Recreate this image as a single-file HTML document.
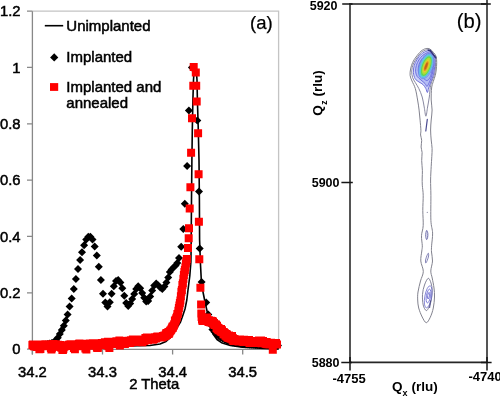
<!DOCTYPE html>
<html><head><meta charset="utf-8"><title>XRD figure</title>
<style>html,body{margin:0;padding:0;background:#fff;width:500px;height:396px;overflow:hidden}
svg{display:block}text{font-family:"Liberation Sans",Arial,sans-serif;fill:#000}</style></head>
<body><svg width="500" height="396" viewBox="0 0 500 396">
<path d="M32.4 11.2H278.6V349.4" fill="none" stroke="#c4c4c4" stroke-width="1.3"/>
<path d="M32.4 11.2V354.5M32.4 349.4H278.6" fill="none" stroke="#888" stroke-width="1.3"/>
<path d="M27 11.1H32.4M27 67.4H32.4M27 123.8H32.4M27 180.1H32.4M27 236.4H32.4M27 292.8H32.4M27 349.1H32.4M32.4 349.4V354.5M102.5 349.4V354.5M172.6 349.4V354.5M242.7 349.4V354.5" fill="none" stroke="#888" stroke-width="1.3"/>
<path d="M32.4 346.5 L120 346.2 L150 345.5 L160 344 L166 341.5 L170 338 L174 332 L177 327.5 L180.5 322 L183 315 L185 309 L186.8 300 L188 290 L189.8 276 L190.9 262 L191.1 250 L191.5 200 L191.9 160 L192.3 130 L192.9 100 L193.5 80 L194.2 69 L195.2 66 L196.2 68 L197 80 L197.4 100 L198.3 130 L199 160 L199.4 200 L199.6 240 L200.4 262.7 L201.3 280 L203 292 L205 302 L207.5 313 L210 324 L213 334 L217 339.5 L221.5 342.7 L230.3 345.4 L242.7 347.1 L260 348.3 L278.6 349" fill="none" stroke="#000" stroke-width="1.6" stroke-linejoin="round"/>
<path d="M33.8 341l4 4l-4 4l-4 -4zM35.8 341l4 4l-4 4l-4 -4zM37.8 341l4 4l-4 4l-4 -4zM39.8 341l4 4l-4 4l-4 -4zM41.8 341l4 4l-4 4l-4 -4zM43.8 340.8l4 4l-4 4l-4 -4zM45.8 340.5l4 4l-4 4l-4 -4zM47.8 340l4 4l-4 4l-4 -4zM49.8 339.5l4 4l-4 4l-4 -4zM51.8 339l4 4l-4 4l-4 -4zM53.8 338l4 4l-4 4l-4 -4zM55.8 336.5l4 4l-4 4l-4 -4zM57.8 333.8l4 4l-4 4l-4 -4zM59.8 330l4 4l-4 4l-4 -4zM61.8 326l4 4l-4 4l-4 -4zM63.8 321.8l4 4l-4 4l-4 -4zM65.8 316.5l4 4l-4 4l-4 -4zM67.6 310.5l4 4l-4 4l-4 -4zM69.6 302.5l4 4l-4 4l-4 -4zM71.7 294.5l4 4l-4 4l-4 -4zM73.8 284.9l4 4l-4 4l-4 -4zM75.9 275l4 4l-4 4l-4 -4zM78 264.9l4 4l-4 4l-4 -4zM80.1 256l4 4l-4 4l-4 -4zM82 248.3l4 4l-4 4l-4 -4zM84.1 241.2l4 4l-4 4l-4 -4zM86.2 235.5l4 4l-4 4l-4 -4zM88.3 232.7l4 4l-4 4l-4 -4zM90.4 232.7l4 4l-4 4l-4 -4zM92.5 235.5l4 4l-4 4l-4 -4zM94.7 242.5l4 4l-4 4l-4 -4zM96.8 251.5l4 4l-4 4l-4 -4zM98.8 262.8l4 4l-4 4l-4 -4zM100.9 276.1l4 4l-4 4l-4 -4zM103 289.7l4 4l-4 4l-4 -4zM105.3 298.5l4 4l-4 4l-4 -4zM107.5 302.5l4 4l-4 4l-4 -4zM109.8 298.3l4 4l-4 4l-4 -4zM111.6 289.7l4 4l-4 4l-4 -4zM113.8 282.2l4 4l-4 4l-4 -4zM116 277.1l4 4l-4 4l-4 -4zM118.2 276.1l4 4l-4 4l-4 -4zM120.4 278.5l4 4l-4 4l-4 -4zM122.3 284.2l4 4l-4 4l-4 -4zM124.3 291.8l4 4l-4 4l-4 -4zM126.2 299l4 4l-4 4l-4 -4zM128.2 302l4 4l-4 4l-4 -4zM130.2 299.5l4 4l-4 4l-4 -4zM132.2 295l4 4l-4 4l-4 -4zM134.2 290l4 4l-4 4l-4 -4zM136.2 285l4 4l-4 4l-4 -4zM138.2 282.2l4 4l-4 4l-4 -4zM140.2 284.2l4 4l-4 4l-4 -4zM142.2 289l4 4l-4 4l-4 -4zM144.2 293.8l4 4l-4 4l-4 -4zM146.2 297.5l4 4l-4 4l-4 -4zM148.2 297l4 4l-4 4l-4 -4zM150.2 292.5l4 4l-4 4l-4 -4zM152.2 286.5l4 4l-4 4l-4 -4zM154.2 281.5l4 4l-4 4l-4 -4zM156.2 279.5l4 4l-4 4l-4 -4zM158.2 281.2l4 4l-4 4l-4 -4zM160.2 283.5l4 4l-4 4l-4 -4zM162.3 285l4 4l-4 4l-4 -4zM164.4 282.5l4 4l-4 4l-4 -4zM166.4 278.5l4 4l-4 4l-4 -4zM168.2 273.5l4 4l-4 4l-4 -4zM169.8 268l4 4l-4 4l-4 -4zM171.6 265.5l4 4l-4 4l-4 -4zM173.6 263.3l4 4l-4 4l-4 -4zM175.6 261.5l4 4l-4 4l-4 -4zM177.3 259l4 4l-4 4l-4 -4zM179 254l4 4l-4 4l-4 -4zM181.2 242.7l4 4l-4 4l-4 -4zM183.3 225l4 4l-4 4l-4 -4zM184.8 199.7l4 4l-4 4l-4 -4zM187.1 162l4 4l-4 4l-4 -4zM188.9 106.6l4 4l-4 4l-4 -4zM191.9 63.5l4 4l-4 4l-4 -4zM197.3 116.5l4 4l-4 4l-4 -4zM199 187.6l4 4l-4 4l-4 -4zM199.7 244.6l4 4l-4 4l-4 -4zM201.6 278l4 4l-4 4l-4 -4zM206.2 298.5l4 4l-4 4l-4 -4zM208.3 310.5l4 4l-4 4l-4 -4zM210.4 320.6l4 4l-4 4l-4 -4zM212.4 325.5l4 4l-4 4l-4 -4zM214.5 328.1l4 4l-4 4l-4 -4zM216.5 330.2l4 4l-4 4l-4 -4zM218.6 332l4 4l-4 4l-4 -4zM220.6 333.3l4 4l-4 4l-4 -4zM222.7 334.4l4 4l-4 4l-4 -4zM224.7 335.4l4 4l-4 4l-4 -4zM226.8 336.4l4 4l-4 4l-4 -4zM228.8 337.1l4 4l-4 4l-4 -4zM230.9 337.8l4 4l-4 4l-4 -4zM232.9 338.4l4 4l-4 4l-4 -4zM235 338.9l4 4l-4 4l-4 -4zM237 339.3l4 4l-4 4l-4 -4zM239.1 339.6l4 4l-4 4l-4 -4zM241.1 339.9l4 4l-4 4l-4 -4zM243.2 340l4 4l-4 4l-4 -4zM245.2 340.2l4 4l-4 4l-4 -4zM247.3 340.3l4 4l-4 4l-4 -4zM249.3 340.5l4 4l-4 4l-4 -4zM251.4 340.5l4 4l-4 4l-4 -4zM253.4 340.6l4 4l-4 4l-4 -4zM255.5 340.7l4 4l-4 4l-4 -4zM257.5 340.8l4 4l-4 4l-4 -4zM259.6 340.8l4 4l-4 4l-4 -4zM261.6 340.9l4 4l-4 4l-4 -4zM263.7 341l4 4l-4 4l-4 -4zM265.7 341l4 4l-4 4l-4 -4zM267.8 341.1l4 4l-4 4l-4 -4zM269.8 341.2l4 4l-4 4l-4 -4zM271.9 341.2l4 4l-4 4l-4 -4zM273.9 341.3l4 4l-4 4l-4 -4zM276 341.4l4 4l-4 4l-4 -4zM278 341.5l4 4l-4 4l-4 -4z" fill="#000"/>
<path d="M28.4 340.9h8v8h-8zM28.9 340.5h8v8h-8zM29.4 341.3h8v8h-8zM29.9 341.9h8v8h-8zM30.4 342.4h8v8h-8zM30.9 341.6h8v8h-8zM31.4 341.1h8v8h-8zM31.9 340.9h8v8h-8zM32.4 342.1h8v8h-8zM32.9 342.9h8v8h-8zM33.4 341.8h8v8h-8zM33.9 340.6h8v8h-8zM34.4 340.8h8v8h-8zM34.9 342.9h8v8h-8zM35.4 345.2h8v8h-8zM35.9 343.7h8v8h-8zM36.4 345h8v8h-8zM36.9 340.7h8v8h-8zM37.4 341.1h8v8h-8zM37.9 341.2h8v8h-8zM38.4 341h8v8h-8zM38.9 342.1h8v8h-8zM39.4 341.6h8v8h-8zM39.9 341.2h8v8h-8zM40.4 342h8v8h-8zM40.9 342.3h8v8h-8zM41.4 340.3h8v8h-8zM41.9 341.4h8v8h-8zM42.4 340.9h8v8h-8zM42.9 341.5h8v8h-8zM43.4 340.6h8v8h-8zM43.9 341.7h8v8h-8zM44.4 341.6h8v8h-8zM44.9 341.4h8v8h-8zM45.4 340.8h8v8h-8zM45.9 341.4h8v8h-8zM46.4 340.8h8v8h-8zM46.9 344.1h8v8h-8zM47.4 345.4h8v8h-8zM47.9 344.3h8v8h-8zM48.4 342.7h8v8h-8zM48.9 342.3h8v8h-8zM49.4 340.1h8v8h-8zM49.9 342h8v8h-8zM50.4 340.9h8v8h-8zM50.9 341.8h8v8h-8zM51.4 341.8h8v8h-8zM51.9 340.2h8v8h-8zM52.4 341.6h8v8h-8zM52.9 341.6h8v8h-8zM53.4 342.5h8v8h-8zM53.9 340.8h8v8h-8zM54.4 342.4h8v8h-8zM54.9 340.9h8v8h-8zM55.4 341.5h8v8h-8zM55.9 341.1h8v8h-8zM56.4 342.9h8v8h-8zM56.9 342.2h8v8h-8zM57.4 343.7h8v8h-8zM57.9 342.2h8v8h-8zM58.4 345.9h8v8h-8zM58.9 345.9h8v8h-8zM59.4 344.7h8v8h-8zM59.9 341.6h8v8h-8zM60.4 342.7h8v8h-8zM60.9 341.3h8v8h-8zM61.4 341.7h8v8h-8zM61.9 341.5h8v8h-8zM62.4 342h8v8h-8zM62.9 341.2h8v8h-8zM63.4 341.4h8v8h-8zM63.9 341.7h8v8h-8zM64.4 341.5h8v8h-8zM64.9 340.8h8v8h-8zM65.4 342.1h8v8h-8zM65.9 340.4h8v8h-8zM66.4 340.4h8v8h-8zM66.9 340.3h8v8h-8zM67.4 342.1h8v8h-8zM67.9 341h8v8h-8zM68.4 340.5h8v8h-8zM68.9 340.4h8v8h-8zM69.4 341.6h8v8h-8zM69.9 343.9h8v8h-8zM70.4 343.7h8v8h-8zM70.9 345.2h8v8h-8zM71.4 340.2h8v8h-8zM71.9 340.9h8v8h-8zM72.4 341.1h8v8h-8zM72.9 340.8h8v8h-8zM73.4 341.1h8v8h-8zM73.9 342.2h8v8h-8zM74.4 340.7h8v8h-8zM74.9 340h8v8h-8zM75.4 339.6h8v8h-8zM75.9 340.8h8v8h-8zM76.4 340.7h8v8h-8zM76.9 341.2h8v8h-8zM77.4 340.5h8v8h-8zM77.9 340.5h8v8h-8zM78.4 340.3h8v8h-8zM78.9 340.4h8v8h-8zM79.4 340.9h8v8h-8zM79.9 340.5h8v8h-8zM80.4 340.8h8v8h-8zM80.9 342.2h8v8h-8zM81.4 344.6h8v8h-8zM81.9 342.9h8v8h-8zM82.4 345.5h8v8h-8zM82.9 340.9h8v8h-8zM83.4 339.8h8v8h-8zM83.9 341.3h8v8h-8zM84.4 340.5h8v8h-8zM84.9 340h8v8h-8zM85.4 339.9h8v8h-8zM85.9 339.6h8v8h-8zM86.4 340.4h8v8h-8zM86.9 341.2h8v8h-8zM87.4 340.1h8v8h-8zM87.9 340.6h8v8h-8zM88.4 341.8h8v8h-8zM88.9 339.3h8v8h-8zM89.4 340.4h8v8h-8zM89.9 339.9h8v8h-8zM90.4 339.3h8v8h-8zM90.9 339.3h8v8h-8zM91.4 340.1h8v8h-8zM91.9 340.4h8v8h-8zM92.4 339.6h8v8h-8zM92.9 343.5h8v8h-8zM93.4 344h8v8h-8zM93.9 343.7h8v8h-8zM94.4 340.6h8v8h-8zM94.9 340.2h8v8h-8zM95.4 340.2h8v8h-8zM95.9 341.3h8v8h-8zM96.4 340.3h8v8h-8zM96.9 339.8h8v8h-8zM97.4 340.3h8v8h-8zM97.9 338.9h8v8h-8zM98.4 339.3h8v8h-8zM98.9 340.2h8v8h-8zM99.4 340h8v8h-8zM99.9 340.7h8v8h-8zM100.4 339.5h8v8h-8zM100.9 338.3h8v8h-8zM101.4 341h8v8h-8zM101.9 340.2h8v8h-8zM102.4 338.5h8v8h-8zM102.9 340.4h8v8h-8zM103.4 339.3h8v8h-8zM103.9 337.8h8v8h-8zM104.4 342.3h8v8h-8zM104.9 342.2h8v8h-8zM105.4 343.9h8v8h-8zM105.9 338.4h8v8h-8zM106.4 338.8h8v8h-8zM106.9 338.8h8v8h-8zM107.4 338.6h8v8h-8zM107.9 338.2h8v8h-8zM108.4 339h8v8h-8zM108.9 339.7h8v8h-8zM109.4 339.3h8v8h-8zM109.9 338h8v8h-8zM110.4 337.8h8v8h-8zM110.9 338.8h8v8h-8zM111.4 338.1h8v8h-8zM111.9 338.1h8v8h-8zM112.4 337.2h8v8h-8zM112.9 340.1h8v8h-8zM113.4 339.2h8v8h-8zM113.9 337.7h8v8h-8zM114.4 339.1h8v8h-8zM114.9 339.5h8v8h-8zM115.4 336.4h8v8h-8zM115.9 341.4h8v8h-8zM116.4 338h8v8h-8zM116.9 338.7h8v8h-8zM117.4 338.1h8v8h-8zM117.9 337.9h8v8h-8zM118.4 338h8v8h-8zM118.9 339.5h8v8h-8zM119.4 339.7h8v8h-8zM119.9 337.5h8v8h-8zM120.4 337.1h8v8h-8zM120.9 340h8v8h-8zM121.4 337h8v8h-8zM121.9 337.3h8v8h-8zM122.4 337.7h8v8h-8zM122.9 338h8v8h-8zM123.4 338.4h8v8h-8zM123.9 337.9h8v8h-8zM124.4 336.8h8v8h-8zM124.9 337.9h8v8h-8zM125.4 337.6h8v8h-8zM125.9 338.9h8v8h-8zM126.4 337.3h8v8h-8zM126.9 336.2h8v8h-8zM127.4 336.4h8v8h-8zM127.9 338.3h8v8h-8zM128.4 336.7h8v8h-8zM128.9 335.4h8v8h-8zM129.4 336.6h8v8h-8zM129.9 337h8v8h-8zM130.4 337.9h8v8h-8zM130.9 336.1h8v8h-8zM131.4 337.4h8v8h-8zM131.9 337.4h8v8h-8zM132.4 336.2h8v8h-8zM132.9 336.5h8v8h-8zM133.4 338.1h8v8h-8zM133.9 338h8v8h-8zM134.4 337.2h8v8h-8zM134.9 336.8h8v8h-8zM135.4 337.4h8v8h-8zM135.9 336.3h8v8h-8zM136.4 336.2h8v8h-8zM136.9 335.6h8v8h-8zM137.4 336.2h8v8h-8zM137.9 336h8v8h-8zM138.4 338.3h8v8h-8zM138.9 335.8h8v8h-8zM139.4 336.9h8v8h-8zM139.9 336.9h8v8h-8zM140.4 335.6h8v8h-8zM140.9 336.6h8v8h-8zM141.4 333.9h8v8h-8zM141.9 335.7h8v8h-8zM142.4 336.2h8v8h-8zM142.9 333.5h8v8h-8zM143.4 334.5h8v8h-8zM143.9 336.2h8v8h-8zM144.4 335h8v8h-8zM144.9 334.3h8v8h-8zM145.4 334.8h8v8h-8zM145.9 334.6h8v8h-8zM146.4 335.6h8v8h-8zM146.9 335.3h8v8h-8zM147.4 334.6h8v8h-8zM147.9 334.2h8v8h-8zM148.4 334.7h8v8h-8zM148.9 335.7h8v8h-8zM149.4 334.9h8v8h-8zM149.9 335h8v8h-8zM150.4 334.3h8v8h-8zM150.9 333.2h8v8h-8zM151.4 333.6h8v8h-8zM151.9 334.5h8v8h-8zM152.4 334h8v8h-8zM152.9 333.1h8v8h-8zM153.4 332.4h8v8h-8zM153.9 333.6h8v8h-8zM154.4 333.1h8v8h-8zM154.9 333h8v8h-8zM155.4 332.9h8v8h-8zM155.9 333.3h8v8h-8zM156.4 333.1h8v8h-8zM156.9 333.5h8v8h-8zM157.4 333.4h8v8h-8zM157.9 333.6h8v8h-8zM158.4 333h8v8h-8zM158.9 332h8v8h-8zM159.4 332.1h8v8h-8zM159.9 332.4h8v8h-8zM160.4 331.5h8v8h-8zM160.9 331.9h8v8h-8zM161.4 332h8v8h-8zM161.9 330.2h8v8h-8zM162.4 329.1h8v8h-8zM162.9 331.1h8v8h-8zM163.4 329.9h8v8h-8zM163.9 330.1h8v8h-8zM164.4 328h8v8h-8zM164.9 329.8h8v8h-8zM165.4 328.5h8v8h-8zM165.9 327.2h8v8h-8zM166.4 326.4h8v8h-8zM166.9 326.2h8v8h-8zM167.4 325.2h8v8h-8zM167.9 324.3h8v8h-8zM168.4 322.8h8v8h-8zM168.9 323.8h8v8h-8zM169.4 322h8v8h-8zM169.9 321.2h8v8h-8zM170.4 320h8v8h-8zM170.9 316.6h8v8h-8zM171.4 317.5h8v8h-8zM171.9 315.4h8v8h-8zM172.4 314h8v8h-8zM172.9 312.7h8v8h-8zM173.4 310.1h8v8h-8zM173.9 309.8h8v8h-8zM174.4 306.8h8v8h-8zM174.9 304.1h8v8h-8zM175.4 301.4h8v8h-8zM175.9 299.1h8v8h-8zM176.4 296.4h8v8h-8zM176.9 292.2h8v8h-8zM177.4 287.8h8v8h-8zM177.9 286.1h8v8h-8zM178.4 280.9h8v8h-8zM178.9 279.2h8v8h-8zM179.4 274.7h8v8h-8zM179.9 271h8v8h-8zM180.4 268.1h8v8h-8zM180.9 266h8v8h-8zM181.4 263.3h8v8h-8zM181.9 259.4h8v8h-8zM182.4 257.3h8v8h-8zM182.9 255.1h8v8h-8zM184 244h8v8h-8zM184.7 234.2h8v8h-8zM185 224.3h8v8h-8zM185.7 204.6h8v8h-8zM186.4 183.3h8v8h-8zM187.1 148.7h8v8h-8zM188 114.3h8v8h-8zM189.3 81.8h8v8h-8zM189.7 63h8v8h-8zM191.8 68.5h8v8h-8zM192.2 81.8h8v8h-8zM192.7 97.5h8v8h-8zM194.1 129.3h8v8h-8zM194.6 170.2h8v8h-8zM194.9 217.8h8v8h-8zM195.3 255.3h8v8h-8zM196.4 283.7h8v8h-8zM197.1 300.5h8v8h-8zM197.3 309.5h8v8h-8zM197.6 313h8v8h-8zM198 315.5h8v8h-8zM198.5 317h8v8h-8zM199 314.9h8v8h-8zM199.5 315.4h8v8h-8zM200 314.4h8v8h-8zM200.5 315.4h8v8h-8zM201 314.6h8v8h-8zM201.5 315.9h8v8h-8zM202 314.2h8v8h-8zM202.5 316.8h8v8h-8zM203 313.4h8v8h-8zM203.5 316h8v8h-8zM204 316.6h8v8h-8zM204.5 317.9h8v8h-8zM205 316.2h8v8h-8zM205.5 318h8v8h-8zM206 317.4h8v8h-8zM206.5 318.5h8v8h-8zM207 316.8h8v8h-8zM207.5 317.9h8v8h-8zM208 317.1h8v8h-8zM208.5 318.8h8v8h-8zM209 317.6h8v8h-8zM209.5 319.7h8v8h-8zM210 318.9h8v8h-8zM210.5 320.9h8v8h-8zM211 320.3h8v8h-8zM211.5 321.1h8v8h-8zM212 320.5h8v8h-8zM212.5 324.1h8v8h-8zM213 321.8h8v8h-8zM213.5 324.9h8v8h-8zM214 323.7h8v8h-8zM214.5 326.2h8v8h-8zM215 324.5h8v8h-8zM215.5 325.6h8v8h-8zM216 324.9h8v8h-8zM216.5 327.2h8v8h-8zM217 325.1h8v8h-8zM217.5 328.1h8v8h-8zM218 326.3h8v8h-8zM218.5 328.3h8v8h-8zM219 328h8v8h-8zM219.5 330.2h8v8h-8zM220 328.3h8v8h-8zM220.5 330.5h8v8h-8zM221 329.3h8v8h-8zM221.5 331.7h8v8h-8zM222 330.1h8v8h-8zM222.5 332.5h8v8h-8zM223 330.6h8v8h-8zM223.5 333.4h8v8h-8zM224 331.8h8v8h-8zM224.5 333.9h8v8h-8zM225 331.6h8v8h-8zM225.5 333.9h8v8h-8zM226 332.9h8v8h-8zM226.5 334.7h8v8h-8zM227 333.1h8v8h-8zM227.5 333.7h8v8h-8zM228 332h8v8h-8zM228.5 335.8h8v8h-8zM229 334.3h8v8h-8zM229.5 336.9h8v8h-8zM230 335.1h8v8h-8zM230.5 336.6h8v8h-8zM231 335.2h8v8h-8zM231.5 335.8h8v8h-8zM232 335.8h8v8h-8zM232.5 336.4h8v8h-8zM233 335.8h8v8h-8zM233.5 336.9h8v8h-8zM234 335.8h8v8h-8zM234.5 337.4h8v8h-8zM235 335.5h8v8h-8zM235.5 336.7h8v8h-8zM236 335.5h8v8h-8zM236.5 336.8h8v8h-8zM237 337.1h8v8h-8zM237.5 336.9h8v8h-8zM238 336.9h8v8h-8zM238.5 337.8h8v8h-8zM239 336.8h8v8h-8zM239.5 337.9h8v8h-8zM240 335.8h8v8h-8zM240.5 337.7h8v8h-8zM241 337.5h8v8h-8zM241.5 337.2h8v8h-8zM242 336.6h8v8h-8zM242.5 337.3h8v8h-8zM243 337h8v8h-8zM243.5 337.2h8v8h-8zM244 337.8h8v8h-8zM244.5 337.7h8v8h-8zM245 336.1h8v8h-8zM245.5 339.1h8v8h-8zM246 337.7h8v8h-8zM246.5 338.4h8v8h-8zM247 337.4h8v8h-8zM247.5 337.9h8v8h-8zM248 337h8v8h-8zM248.5 338.6h8v8h-8zM249 337.7h8v8h-8zM249.5 338.7h8v8h-8zM250 337.3h8v8h-8zM250.5 337.9h8v8h-8zM251 337.1h8v8h-8zM251.5 338.9h8v8h-8zM252 338.1h8v8h-8zM252.5 338h8v8h-8zM253 337h8v8h-8zM253.5 339h8v8h-8zM254 337.7h8v8h-8zM254.5 338.7h8v8h-8zM255 336.5h8v8h-8zM255.5 338.1h8v8h-8zM256 337h8v8h-8zM256.5 338.5h8v8h-8zM257 336.5h8v8h-8zM257.5 339.3h8v8h-8zM258 337.8h8v8h-8zM258.5 339h8v8h-8zM259 337.1h8v8h-8zM259.5 338.9h8v8h-8zM260 338.8h8v8h-8zM260.5 338.1h8v8h-8zM261 338.3h8v8h-8zM261.5 339.7h8v8h-8zM262 337.9h8v8h-8zM262.5 339.9h8v8h-8zM263 338.3h8v8h-8zM263.5 340.3h8v8h-8zM264 339h8v8h-8zM264.5 339.9h8v8h-8zM265 340h8v8h-8zM265.5 340.4h8v8h-8zM266 339.8h8v8h-8zM266.5 339.3h8v8h-8zM267 338.7h8v8h-8zM267.5 340.6h8v8h-8zM268 339.7h8v8h-8zM268.5 340.1h8v8h-8zM269 339.7h8v8h-8zM269.5 339.6h8v8h-8zM270 339.4h8v8h-8zM270.5 339.6h8v8h-8zM271 339.6h8v8h-8zM271.5 340.1h8v8h-8zM272 339h8v8h-8zM272.5 340.5h8v8h-8zM273 340.6h8v8h-8zM268.8 345.7h8v8h-8z" fill="#f00"/>
<text x="20.5" y="16.4" text-anchor="end" font-size="14.8" stroke="#000" stroke-width="0.5">1.2</text>
<text x="20.5" y="72.7" text-anchor="end" font-size="14.8" stroke="#000" stroke-width="0.5">1</text>
<text x="20.5" y="129.1" text-anchor="end" font-size="14.8" stroke="#000" stroke-width="0.5">0.8</text>
<text x="20.5" y="185.4" text-anchor="end" font-size="14.8" stroke="#000" stroke-width="0.5">0.6</text>
<text x="20.5" y="241.7" text-anchor="end" font-size="14.8" stroke="#000" stroke-width="0.5">0.4</text>
<text x="20.5" y="298.1" text-anchor="end" font-size="14.8" stroke="#000" stroke-width="0.5">0.2</text>
<text x="20.5" y="354.4" text-anchor="end" font-size="14.8" stroke="#000" stroke-width="0.5">0</text>
<text x="32.4" y="377" text-anchor="middle" font-size="14.8" stroke="#000" stroke-width="0.5">34.2</text>
<text x="102.5" y="377" text-anchor="middle" font-size="14.8" stroke="#000" stroke-width="0.5">34.3</text>
<text x="172.6" y="377" text-anchor="middle" font-size="14.8" stroke="#000" stroke-width="0.5">34.4</text>
<text x="242.7" y="377" text-anchor="middle" font-size="14.8" stroke="#000" stroke-width="0.5">34.5</text>
<text x="154.2" y="389.3" text-anchor="middle" font-size="14.8" stroke="#000" stroke-width="0.5">2 Theta</text>
<path d="M44.8 25.7H63.2" stroke="#000" stroke-width="1.6"/>
<text x="66.3" y="30.9" font-size="15" stroke="#000" stroke-width="0.5">Unimplanted</text>
<path d="M54.2 53.3l4.1 4.1l-4.1 4.1l-4.1 -4.1z" fill="#000"/>
<text x="66.3" y="62.2" font-size="15" stroke="#000" stroke-width="0.5">Implanted</text>
<rect x="50" y="83.1" width="8.2" height="7.8" fill="#f00"/>
<text x="66.3" y="92.1" font-size="15" stroke="#000" stroke-width="0.5">Implanted and</text>
<text x="66.3" y="108.2" font-size="15" stroke="#000" stroke-width="0.5">annealed</text>
<text x="250" y="29.1" font-size="18.5" stroke="#000" stroke-width="0.25">(a)</text>
<path d="M350 362.4V4.1H487M487 0V362.4" fill="none" stroke="#555" stroke-width="2"/>
<path d="M350 362.4H487" fill="none" stroke="#262626" stroke-width="1.6"/>
<path d="M342.2 4.1H352.5M341.4 182.4H352.8M341.3 362.4H352M350 357V370.4M487 357V370.4M481 4.1H490.8M481 362.4H491.6" fill="none" stroke="#151515" stroke-width="1.5"/>
<text x="337.5" y="9.6" text-anchor="end" font-size="12.5" font-weight="bold">5920</text>
<text x="339.5" y="187" text-anchor="end" font-size="12.5" font-weight="bold">5900</text>
<text x="339.5" y="366.6" text-anchor="end" font-size="12.5" font-weight="bold">5880</text>
<text x="349" y="382.9" text-anchor="middle" font-size="13" font-weight="bold">-4755</text>
<text x="468.5" y="380.9" font-size="13" font-weight="bold">-4740</text>
<text x="392" y="391.3" font-size="13.5" font-weight="bold">Q<tspan font-size="9" dy="4.2">x</tspan><tspan dy="-4.2" dx="0.3"> (rlu)</tspan></text>
<text transform="translate(322,115.8) rotate(-90)" font-size="13.5" font-weight="bold">Q<tspan font-size="8.5" dy="4.5" dx="0.6">z</tspan><tspan dy="-4.5" dx="0.3"> (rlu)</tspan></text>
<text x="456.8" y="28" font-size="20.3" stroke="#000" stroke-width="0.15">(b)</text>
<path d="M425.8 48.6C427.3 48.25 428.72 48.45 430 49.1C431.28 49.75 432.48 51.28 433.5 52.5C434.52 53.72 435.57 54.7 436.1 56.4C436.63 58.1 436.68 60.43 436.7 62.7C436.72 64.97 436.45 67.85 436.2 70C435.95 72.15 435.7 73.65 435.2 75.6C434.7 77.55 433.8 79.63 433.2 81.7C432.6 83.77 431.93 84.95 431.6 88C431.27 91.05 431.12 96.33 431.2 100C431.28 103.67 432.1 106.67 432.1 110C432.1 113.33 431.45 116.67 431.2 120C430.95 123.33 430.6 126.67 430.6 130C430.6 133.33 430.95 136.92 431.2 140C431.45 143.08 432 145.73 432.1 148.5C432.2 151.27 431.95 153.57 431.8 156.6C431.65 159.63 431.4 162.8 431.2 166.7C431 170.6 430.65 175.23 430.6 180C430.55 184.77 430.85 188.55 430.9 195.3C430.95 202.05 430.62 214.2 430.9 220.5C431.18 226.8 432.48 228.88 432.6 233.1C432.72 237.32 431.78 242.65 431.6 245.8C431.42 248.95 431.35 249.47 431.5 252C431.65 254.53 432.62 257.83 432.5 261C432.38 264.17 430.85 268.17 430.8 271C430.75 273.83 431.67 275.17 432.2 278C432.73 280.83 433.62 284.83 434 288C434.38 291.17 434.62 293.67 434.5 297C434.38 300.33 434 304.63 433.3 308C432.6 311.37 431.47 314.75 430.3 317.2C429.13 319.65 427.65 322.73 426.3 322.7C424.95 322.67 423.47 319.45 422.2 317C420.93 314.55 419.45 310.83 418.7 308C417.95 305.17 417.82 302.67 417.7 300C417.58 297.33 417.53 295.17 418 292C418.47 288.83 419.62 284.42 420.5 281C421.38 277.58 423.25 274.83 423.3 271.5C423.35 268.17 421.05 264.42 420.8 261C420.55 257.58 421.55 253.53 421.8 251C422.05 248.47 422.35 248.35 422.3 245.8C422.25 243.25 421.35 239.07 421.5 235.7C421.65 232.33 422.98 229.82 423.2 225.6C423.42 221.38 422.8 215.45 422.8 210.4C422.8 205.35 423.28 199.5 423.2 195.3C423.12 191.1 422.47 188.08 422.3 185.2C422.13 182.32 422.18 180.42 422.2 178C422.22 175.58 422.48 173.6 422.4 170.7C422.32 167.8 421.75 163.63 421.7 160.6C421.65 157.57 422.2 154.77 422.1 152.5C422 150.23 421.17 149.02 421.1 147C421.03 144.98 421.78 142.4 421.7 140.4C421.62 138.4 420.73 136.68 420.6 135C420.47 133.32 420.98 132.77 420.9 130.3C420.82 127.83 420.4 123.57 420.1 120.2C419.8 116.83 419.52 113.47 419.1 110.1C418.68 106.73 418.23 103.6 417.6 100C416.97 96.4 416.23 91.67 415.3 88.5C414.37 85.33 412.87 83.18 412 81C411.13 78.82 410.33 77.4 410.1 75.4C409.87 73.4 410.18 71.15 410.6 69C411.02 66.85 411.7 64.5 412.6 62.5C413.5 60.5 414.6 58.88 416 57C417.4 55.12 419.37 52.6 421 51.2C422.63 49.8 424.3 48.95 425.8 48.6Z" fill="none" stroke="#82828e" stroke-width="1"/>
<path d="M426.5 49.8C427.85 49.43 428.18 48.93 429.6 50.1C431.02 51.27 434 54.73 435 56.8C436 58.87 435.57 60.3 435.6 62.5C435.63 64.7 435.47 67.75 435.2 70C434.93 72.25 434.57 74.08 434 76C433.43 77.92 432.42 79.6 431.8 81.5C431.18 83.4 430.72 84.82 430.3 87.4C429.88 89.98 429.75 93.73 429.3 97C428.85 100.27 428.17 103.8 427.6 107C427.03 110.2 426.47 116.2 425.9 116.2C425.33 116.2 424.82 110.2 424.2 107C423.58 103.8 423.1 100.08 422.2 97C421.3 93.92 419.95 90.92 418.8 88.5C417.65 86.08 416.33 84.33 415.3 82.5C414.27 80.67 413.2 79.42 412.6 77.5C412 75.58 411.58 73.25 411.7 71C411.82 68.75 412.45 66.17 413.3 64C414.15 61.83 415.43 59.95 416.8 58C418.17 56.05 419.88 53.67 421.5 52.3C423.12 50.93 425.15 50.17 426.5 49.8Z" fill="none" stroke="#7c7c96" stroke-width="0.9"/>
<path d="M427 51C428.37 50.55 428.37 50.25 429.6 51.3C430.83 52.35 433.52 55.35 434.4 57.3C435.28 59.25 434.92 60.88 434.9 63C434.88 65.12 434.62 67.83 434.3 70C433.98 72.17 433.58 74 433 76C432.42 78 431.52 80 430.8 82C430.08 84 429.27 86.25 428.7 88C428.13 89.75 427.88 92.42 427.4 92.5C426.92 92.58 426.53 89.83 425.8 88.5C425.07 87.17 424.13 85.58 423 84.5C421.87 83.42 420.3 82.95 419 82C417.7 81.05 416.13 80.38 415.2 78.8C414.27 77.22 413.57 74.72 413.4 72.5C413.23 70.28 413.6 67.67 414.2 65.5C414.8 63.33 415.8 61.42 417 59.5C418.2 57.58 419.73 55.42 421.4 54C423.07 52.58 425.63 51.45 427 51Z" fill="#ccd2f8" stroke="#6464d4" stroke-width="0.9"/>
<path d="M427.5 52.6C428.63 52.18 428.62 51.9 429.6 52.8C430.58 53.7 432.7 56.13 433.4 58C434.1 59.87 433.87 61.83 433.8 64C433.73 66.17 433.42 68.75 433 71C432.58 73.25 431.97 75.5 431.3 77.5C430.63 79.5 429.72 81.5 429 83C428.28 84.5 427.67 86.42 427 86.5C426.33 86.58 426 84.58 425 83.5C424 82.42 422.3 81.17 421 80C419.7 78.83 418.1 77.92 417.2 76.5C416.3 75.08 415.75 73.33 415.6 71.5C415.45 69.67 415.77 67.42 416.3 65.5C416.83 63.58 417.72 61.7 418.8 60C419.88 58.3 421.35 56.53 422.8 55.3C424.25 54.07 426.37 53.02 427.5 52.6Z" fill="#b4bcf4" stroke="#5a5ad8" stroke-width="0.8"/>
<path d="M427.8 54C428.65 53.73 428.92 53.57 429.7 54.4C430.48 55.23 431.98 57.23 432.5 59C433.02 60.77 432.92 62.83 432.8 65C432.68 67.17 432.3 69.87 431.8 72C431.3 74.13 430.6 76.38 429.8 77.8C429 79.22 428.05 80.38 427 80.5C425.95 80.62 424.7 79.33 423.5 78.5C422.3 77.67 420.68 76.83 419.8 75.5C418.92 74.17 418.33 72.33 418.2 70.5C418.07 68.67 418.45 66.33 419 64.5C419.55 62.67 420.57 60.92 421.5 59.5C422.43 58.08 423.55 56.92 424.6 56C425.65 55.08 426.95 54.27 427.8 54Z" fill="#a8b8f2" stroke="#5454d8" stroke-width="0.7"/>
<ellipse cx="426.1" cy="66.2" rx="6.6" ry="13.3" transform="rotate(20 426.1 66.2)" fill="#9cc4f4" stroke="#6078e0" stroke-width="0.6"/>
<ellipse cx="426.0" cy="66.0" rx="5.8" ry="12.4" transform="rotate(20 426.0 66.0)" fill="#7ccaf0" stroke="#58a0e8" stroke-width="0.6"/>
<ellipse cx="426.1" cy="66.1" rx="5.0" ry="11.3" transform="rotate(20 426.1 66.1)" fill="#5cd8c0" stroke="#4cc8c8" stroke-width="0.5"/>
<ellipse cx="426.3" cy="66.1" rx="4.4" ry="10.3" transform="rotate(20 426.3 66.1)" fill="#66d44c" stroke="none" stroke-width="1"/>
<ellipse cx="426.4" cy="66.1" rx="3.5" ry="9.0" transform="rotate(20 426.4 66.1)" fill="#acdc3a" stroke="none" stroke-width="1"/>
<ellipse cx="426.3" cy="66.1" rx="2.5" ry="6.9" transform="rotate(20 426.3 66.1)" fill="#e6cc2c" stroke="none" stroke-width="1"/>
<ellipse cx="426.2" cy="66.1" rx="1.6" ry="5.2" transform="rotate(20 426.2 66.1)" fill="#e29224" stroke="none" stroke-width="1"/>
<ellipse cx="426.1" cy="66.1" rx="1.0" ry="3.9" transform="rotate(20 426.1 66.1)" fill="#c8601a" stroke="none" stroke-width="1"/>
<path d="M428.4 50.2L430.2 50.6L435.6 57.6" fill="none" stroke="#34347c" stroke-width="1.6" stroke-linecap="round" stroke-linejoin="round"/>
<path d="M427.3 119.4L425.8 131" stroke="#4a4a90" stroke-width="1.2" stroke-linecap="round"/>
<circle cx="427.3" cy="212.4" r="0.6" fill="#9090a8"/>
<path d="M426.8 230.5C427.1 230.67 427.67 232.33 427.8 233.5C427.93 234.67 427.8 236.5 427.6 237.5C427.4 238.5 426.9 239.67 426.6 239.5C426.3 239.33 425.9 237.67 425.8 236.5C425.7 235.33 425.83 233.5 426 232.5C426.17 231.5 426.5 230.33 426.8 230.5Z" fill="none" stroke="#50509a" stroke-width="0.9"/>
<path d="M428.3 253.2C428.57 253.28 428.78 254.78 428.6 256C428.42 257.22 427.67 259.33 427.2 260.5C426.73 261.67 426.07 263.08 425.8 263C425.53 262.92 425.4 261.25 425.6 260C425.8 258.75 426.55 256.63 427 255.5C427.45 254.37 428.03 253.12 428.3 253.2Z" fill="none" stroke="#6a6aa8" stroke-width="0.85"/>
<path d="M428.2 278.3C429.28 277.97 430.33 280.98 431 283C431.67 285.02 432.15 287.57 432.2 290.4C432.25 293.23 431.83 297.23 431.3 300C430.77 302.77 429.85 305.23 429 307C428.15 308.77 427.17 310.93 426.2 310.6C425.23 310.27 423.82 307.7 423.2 305C422.58 302.3 422.28 297.73 422.5 294.4C422.72 291.07 423.55 287.68 424.5 285C425.45 282.32 427.12 278.63 428.2 278.3Z" fill="none" stroke="#76768c" stroke-width="0.9"/>
<ellipse cx="428.2" cy="296.8" rx="3.4" ry="11.2" transform="rotate(10 428.2 296.8)" fill="none" stroke="#6a6acc" stroke-width="0.75"/>
<ellipse cx="428.5" cy="296.0" rx="2.1" ry="7.0" transform="rotate(10 428.5 296.0)" fill="none" stroke="#5c5cd0" stroke-width="0.75"/>
<ellipse cx="428.6" cy="295.6" rx="0.9" ry="3.4" transform="rotate(10 428.6 295.6)" fill="none" stroke="#5050c8" stroke-width="0.7"/>
<path d="M430.6 300.5L429.6 308" stroke="#50508a" stroke-width="1"/>
</svg></body></html>
